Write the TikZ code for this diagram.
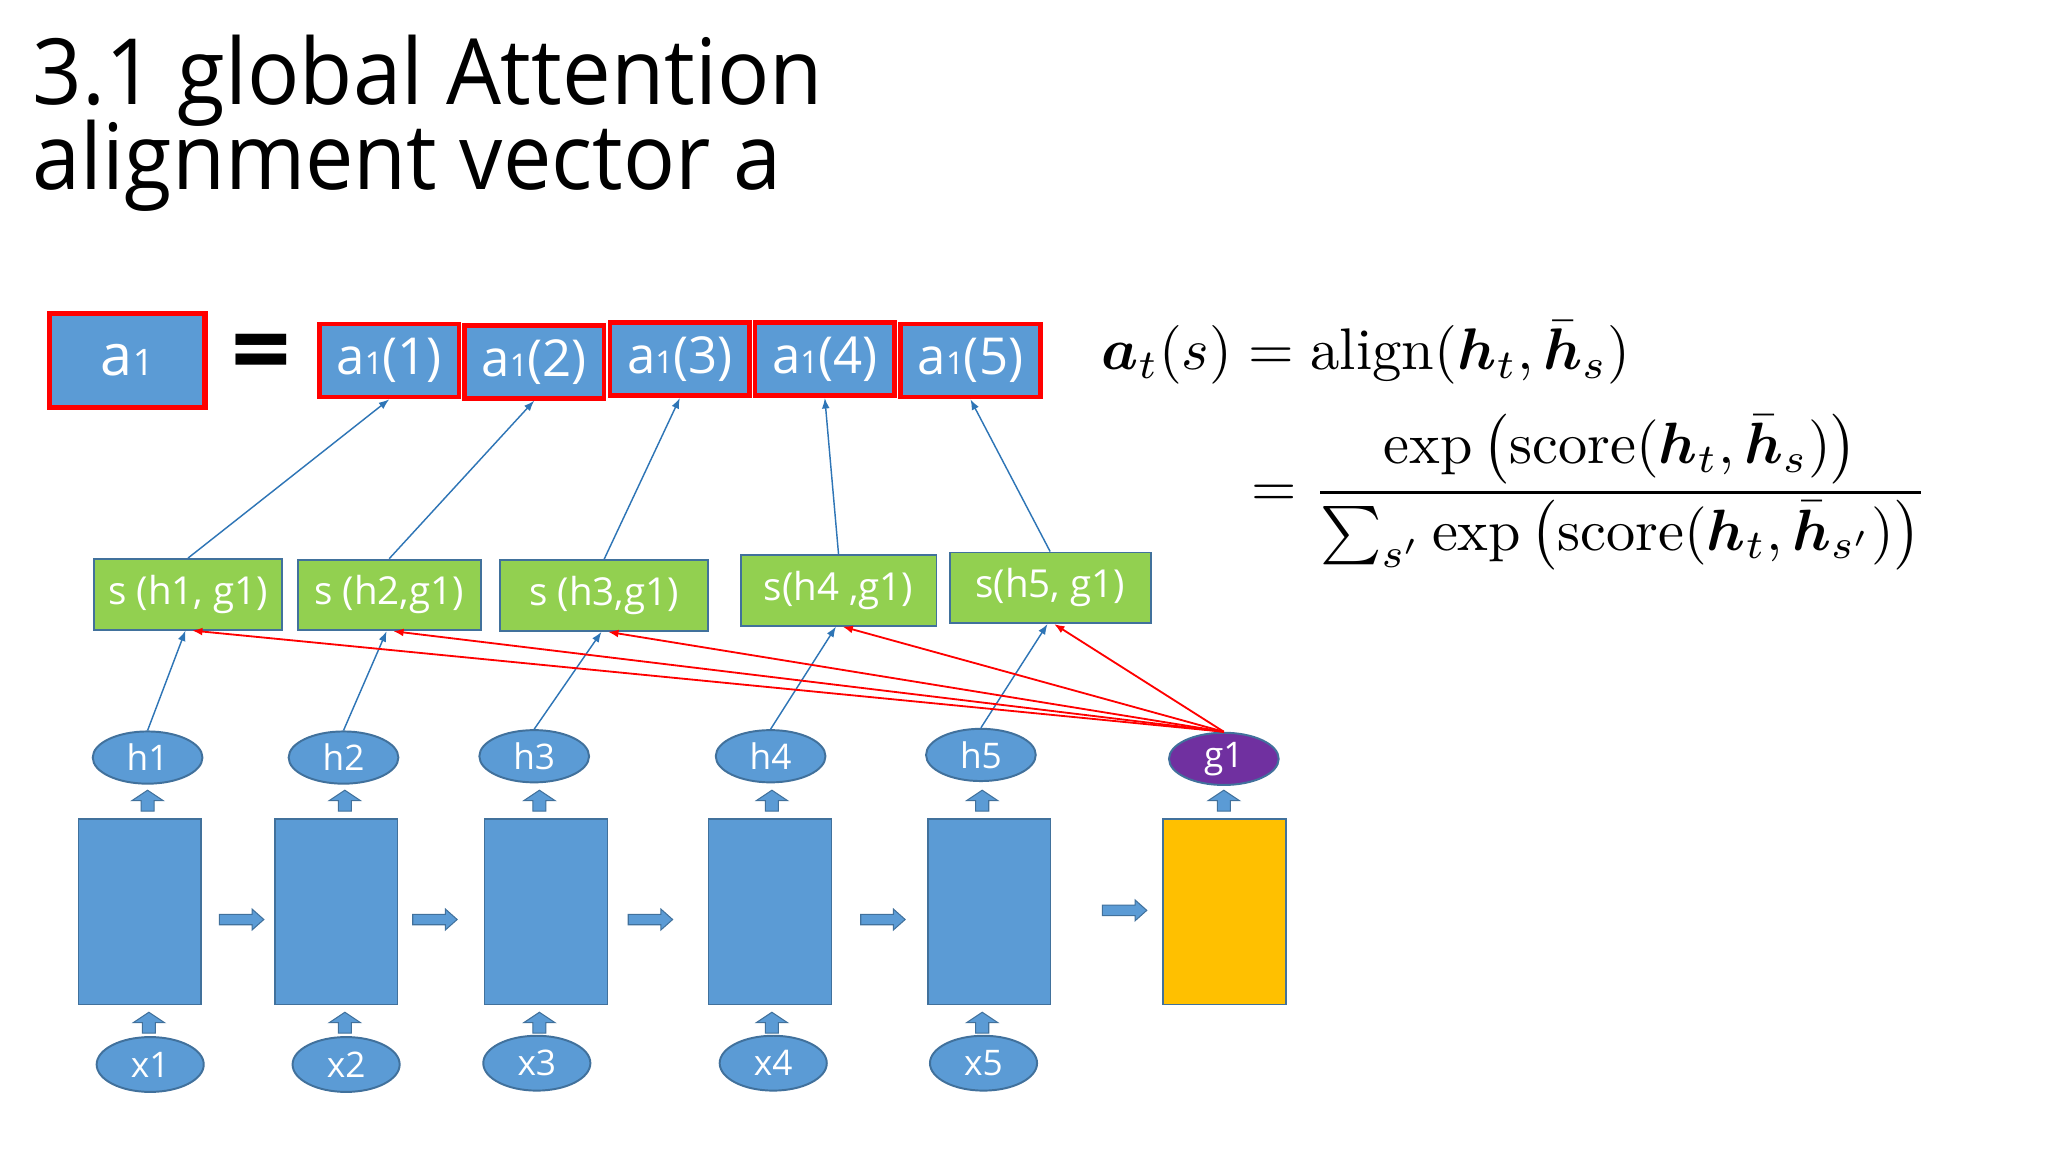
\documentclass[tikz,border=0pt]{standalone}
\usepackage{amsmath,amssymb}
\usepackage{fontspec}
\newfontfamily\uisans{Open Sans}
\usetikzlibrary{shapes.geometric,arrows.meta,calc}
\definecolor{boxblue}{HTML}{5B9BD5}
\definecolor{edgeblue}{HTML}{41719C}
\definecolor{linkblue}{HTML}{2E75B6}
\definecolor{redline}{HTML}{FF0000}
\definecolor{sgreen}{HTML}{92D050}
\definecolor{gpurple}{HTML}{7030A0}
\definecolor{gyellow}{HTML}{FFC000}
\tikzset{
  titletext/.style={anchor=base west,inner sep=0,font=\uisans\fontsize{70}{80}\selectfont},
  abox/.style={draw=redline,line width=3.5pt,fill=boxblue,minimum width=107pt,minimum height=56pt,inner sep=0,text=white,font=\uisans\fontsize{39}{44}\selectfont},
  sbox/.style={draw=edgeblue,line width=1.5pt,fill=sgreen,minimum height=54pt,inner sep=0,text=white,font=\uisans\fontsize{29.5}{34}\selectfont},
  hnode/.style={ellipse,draw=edgeblue,line width=1.5pt,fill=boxblue,minimum width=84pt,minimum height=40pt,inner sep=0,text=white,font=\uisans\fontsize{27}{30}\selectfont},
  cell/.style={draw=edgeblue,line width=1pt,fill=boxblue,minimum width=94pt,minimum height=142pt,inner sep=0},
  blink/.style={draw=linkblue,line width=1.1pt,-{Latex[length=8pt,width=6pt]}},
  rlink/.style={draw=redline,line width=1.4pt,-{Latex[length=8pt,width=6pt]}},
  blk/.style={fill=boxblue,draw=edgeblue,line width=0.8pt},
  uparr/.pic={\path[blk] (-5,8) -- (-5,0) -- (-12,0) -- (0,-8) -- (12,0) -- (5,0) -- (5,8) -- cycle;},
  rtarr/.pic={\path[blk] (-17,-4) -- (8,-4) -- (8,-8) -- (17,0) -- (8,8) -- (8,4) -- (-17,4) -- cycle;}
}
\newcommand{\asub}[1]{a{\fontsize{24}{24}\selectfont 1}(#1)}
\begin{document}
\begin{tikzpicture}[x=1pt,y=-1pt]
\useasboundingbox (0,0) rectangle (1568,882);
\fill[white] (0,0) rectangle (1568,882);
% title
\node[titletext] (t1) at (25,80) {\scalebox{0.95}[1]{3.1 global Attention}};
\node[titletext] (t2) at (25,145) {\scalebox{0.945}[1]{alignment vector a}};
% a1 = vector
\node[abox,line width=4pt,minimum width=119pt,minimum height=72pt,font=\uisans\fontsize{44}{48}\selectfont] (A) at (97.5,276) {a{\fontsize{28}{28}\selectfont 1}};
\node[font=\uisans\bfseries\fontsize{80}{80}\selectfont,inner sep=0] (eq) at (200,276) {=};
\node[abox] (a1) at (298,276) {\asub{1}};
\node[abox] (a2) at (409,277) {\asub{2}};
\node[abox] (a3) at (520.5,275) {\asub{3}};
\node[abox] (a4) at (631.5,275) {\asub{4}};
\node[abox] (a5) at (743,276) {\asub{5}};
% score boxes
\node[sbox,minimum width=144pt] (s1) at (144,455) {s (h1, g1)};
\node[sbox,minimum width=140pt] (s2) at (298,455.5) {s (h2,g1)};
\node[sbox,minimum width=159pt] (s3) at (462.5,456) {s (h3,g1)};
\node[sbox,minimum width=150pt] (s4) at (642,452) {s(h4 ,g1)};
\node[sbox,minimum width=154pt] (s5) at (804,450) {s(h5, g1)};
% hidden states
\node[hnode] (h1) at (113,580) {h1};
\node[hnode] (h2) at (263,580) {h2};
\node[hnode] (h3) at (409,579) {h3};
\node[hnode] (h4) at (590,579) {h4};
\node[hnode] (h5) at (751,578) {h5};
\node[hnode,fill=gpurple] (g1) at (937,581) {g1};
% cells
\node[cell] (r1) at (107,698) {};
\node[cell] (r2) at (257.5,698) {};
\node[cell] (r3) at (418,698) {};
\node[cell] (r4) at (589.5,698) {};
\node[cell] (r5) at (757.5,698) {};
\node[cell,fill=gyellow] (rg) at (937.5,698) {};
% inputs
\node[hnode,minimum width=82pt,minimum height=42pt] (x1) at (115,815) {x1};
\node[hnode,minimum width=82pt,minimum height=42pt] (x2) at (265,815) {x2};
\node[hnode,minimum width=82pt,minimum height=42pt] (x3) at (411,814) {x3};
\node[hnode,minimum width=82pt,minimum height=42pt] (x4) at (592,814) {x4};
\node[hnode,minimum width=82pt,minimum height=42pt] (x5) at (753,814) {x5};
% block arrows
\foreach \x in {113,264,413,591,752,937} \pic at (\x,613) {uparr};
\foreach \x in {114,264,413,591,752} \pic at (\x,783) {uparr};
\foreach \x in {185,333,498,676} \pic at (\x,704) {rtarr};
\pic at (861,697) {rtarr};
% links s -> a
\draw[blink] (s1.north) -- (a1.south);
\draw[blink] (s2.north) -- (a2.south);
\draw[blink] (s3.north) -- (a3.south);
\draw[blink] (s4.north) -- (a4.south);
\draw[blink] (s5.north) -- (a5.south);
% links h -> s
\draw[blink] (h1.north) -- ([xshift=-2pt]s1.south);
\draw[blink] (h2.north) -- ([xshift=-2pt]s2.south);
\draw[blink] (h3.north) -- ([xshift=-2pt]s3.south);
\draw[blink] (h4.north) -- ([xshift=-2pt]s4.south);
\draw[blink] (h5.north) -- ([xshift=-2pt]s5.south);
% links g1 -> s
\foreach \s in {s1,s2,s3,s4,s5} \draw[rlink] (g1.north) -- ([xshift=3pt]\s.south);
% formula
\node[anchor=west,inner sep=0] (f1) at (843,270) {\resizebox{405pt}{!}{$\boldsymbol{a}_t(s) = \mathrm{align}(\boldsymbol{h}_t,\bar{\boldsymbol{h}}_s)$}};
\node[anchor=west,inner sep=0] (f2) at (958,377) {\resizebox{518pt}{!}{$\displaystyle = \frac{\exp\left(\mathrm{score}(\boldsymbol{h}_t,\bar{\boldsymbol{h}}_s)\right)}{\sum_{s'}\exp\left(\mathrm{score}(\boldsymbol{h}_t,\bar{\boldsymbol{h}}_{s'})\right)}$}};
\end{tikzpicture}
\end{document}
